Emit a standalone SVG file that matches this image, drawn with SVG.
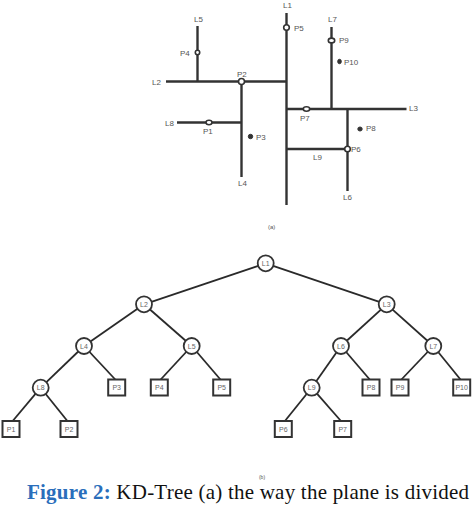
<svg xmlns="http://www.w3.org/2000/svg" width="474" height="505" viewBox="0 0 474 505">
<style>
.ln{stroke:#333;stroke-width:2.4;fill:none;stroke-linecap:butt}
.pt{fill:#fff;stroke:#333;stroke-width:1.6}
.dot{fill:#333;stroke:#333;stroke-width:1}
.lb{font-family:"Liberation Sans",Arial,sans-serif;font-size:8px;fill:#555}
.edge{stroke:#2a2a2a;stroke-width:1.8;fill:none}
.cn{fill:#fff;stroke:#333;stroke-width:1.8}
.bx{fill:#fff;stroke:#333;stroke-width:2}
.tl{font-family:"Liberation Sans",Arial,sans-serif;font-size:7px;fill:#666;text-anchor:middle;dominant-baseline:central}
.cap{font-family:"Liberation Serif","Times New Roman",serif;font-size:21px}
</style>
<rect width="474" height="505" fill="#fff"/>
<!-- Part (a) -->
<g id="plane">
<line class="ln" x1="286.5" y1="13" x2="286.5" y2="205"/>
<line class="ln" x1="166" y1="81.5" x2="286.5" y2="81.5"/>
<line class="ln" x1="197.5" y1="26" x2="197.5" y2="81.5"/>
<line class="ln" x1="241.5" y1="81.5" x2="241.5" y2="177"/>
<line class="ln" x1="177" y1="122.5" x2="241.5" y2="122.5"/>
<line class="ln" x1="286.5" y1="109" x2="406.5" y2="109"/>
<line class="ln" x1="331.5" y1="27" x2="331.5" y2="109"/>
<line class="ln" x1="347.5" y1="109" x2="347.5" y2="191"/>
<line class="ln" x1="286.5" y1="149" x2="347.5" y2="149"/>
<circle class="pt" cx="286.5" cy="27.5" r="2.8"/>
<circle class="pt" cx="197.5" cy="52.5" r="2.2"/>
<circle class="pt" cx="241.5" cy="81.5" r="3"/>
<ellipse class="pt" cx="331.5" cy="40.5" rx="3.2" ry="2.4"/>
<ellipse class="dot" cx="339.5" cy="61.5" rx="1.8" ry="2.2"/>
<ellipse class="pt" cx="306.5" cy="109" rx="3.2" ry="2.2"/>
<ellipse class="pt" cx="209" cy="122.5" rx="3" ry="2.2"/>
<circle class="dot" cx="250.5" cy="136.5" r="2.2"/>
<ellipse class="dot" cx="360" cy="129" rx="2.2" ry="2"/>
<circle class="pt" cx="347.5" cy="149" r="2.8"/>
<text class="lb" x="283" y="8">L1</text>
<text class="lb" x="294" y="31">P5</text>
<text class="lb" x="194" y="22">L5</text>
<text class="lb" x="180" y="56">P4</text>
<text class="lb" x="152" y="85">L2</text>
<text class="lb" x="237" y="77">P2</text>
<text class="lb" x="238" y="186">L4</text>
<text class="lb" x="165" y="126">L8</text>
<text class="lb" x="203" y="134">P1</text>
<text class="lb" x="256" y="140">P3</text>
<text class="lb" x="328" y="22">L7</text>
<text class="lb" x="339" y="43">P9</text>
<text class="lb" x="344" y="65">P10</text>
<text class="lb" x="409" y="111">L3</text>
<text class="lb" x="300" y="121">P7</text>
<text class="lb" x="366" y="131">P8</text>
<text class="lb" x="351" y="152">P6</text>
<text class="lb" x="313" y="160">L9</text>
<text class="lb" x="343" y="200">L6</text>
<text class="lb" x="268" y="229" style="font-size:6px">(a)</text>
</g>
<!-- Part (b) -->
<g id="connectors">
<line class="edge" x1="265.7" y1="263.3" x2="144" y2="304.3"/>
<line class="edge" x1="265.7" y1="263.3" x2="386.7" y2="304.3"/>
<line class="edge" x1="144" y1="304.3" x2="84" y2="346"/>
<line class="edge" x1="144" y1="304.3" x2="191.7" y2="346"/>
<line class="edge" x1="386.7" y1="304.3" x2="341" y2="346"/>
<line class="edge" x1="386.7" y1="304.3" x2="433.3" y2="346"/>
<line class="edge" x1="84" y1="346" x2="40.7" y2="387.7"/>
<line class="edge" x1="84" y1="346" x2="116.7" y2="381"/>
<line class="edge" x1="191.7" y1="346" x2="159.3" y2="381"/>
<line class="edge" x1="191.7" y1="346" x2="221.7" y2="381"/>
<line class="edge" x1="341" y1="346" x2="311.7" y2="387.7"/>
<line class="edge" x1="341" y1="346" x2="371" y2="381"/>
<line class="edge" x1="433.3" y1="346" x2="400" y2="381"/>
<line class="edge" x1="433.3" y1="346" x2="461.7" y2="381"/>
<line class="edge" x1="40.7" y1="387.7" x2="11" y2="423"/>
<line class="edge" x1="40.7" y1="387.7" x2="69" y2="423"/>
<line class="edge" x1="311.7" y1="387.7" x2="283.3" y2="423"/>
<line class="edge" x1="311.7" y1="387.7" x2="342.7" y2="423"/>
</g>
<g id="nL1"><circle class="cn" cx="265.7" cy="263.3" r="8"/><text class="tl" x="265.7" y="263.3">L1</text></g>
<g id="nL2"><circle class="cn" cx="144" cy="304.3" r="8"/><text class="tl" x="144" y="304.3">L2</text></g>
<g id="nL3"><circle class="cn" cx="386.7" cy="304.3" r="8"/><text class="tl" x="386.7" y="304.3">L3</text></g>
<g id="nL4"><circle class="cn" cx="84" cy="346" r="8"/><text class="tl" x="84" y="346">L4</text></g>
<g id="nL5"><circle class="cn" cx="191.7" cy="346" r="8"/><text class="tl" x="191.7" y="346">L5</text></g>
<g id="nL6"><circle class="cn" cx="341" cy="346" r="8"/><text class="tl" x="341" y="346">L6</text></g>
<g id="nL7"><circle class="cn" cx="433.3" cy="346" r="8"/><text class="tl" x="433.3" y="346">L7</text></g>
<g id="nL8"><circle class="cn" cx="40.7" cy="387.7" r="8"/><text class="tl" x="40.7" y="387.7">L8</text></g>
<g id="nL9"><circle class="cn" cx="311.7" cy="387.7" r="8"/><text class="tl" x="311.7" y="387.7">L9</text></g>
<g id="nP3"><rect class="bx" x="108.2" y="379.5" width="17" height="16"/><text class="tl" x="116.7" y="387.5">P3</text></g>
<g id="nP4"><rect class="bx" x="150.8" y="379.5" width="17" height="16"/><text class="tl" x="159.3" y="387.5">P4</text></g>
<g id="nP5"><rect class="bx" x="213.2" y="379.5" width="17" height="16"/><text class="tl" x="221.7" y="387.5">P5</text></g>
<g id="nP8"><rect class="bx" x="362.5" y="379.5" width="17" height="16"/><text class="tl" x="371" y="387.5">P8</text></g>
<g id="nP9"><rect class="bx" x="391.5" y="379.5" width="17" height="16"/><text class="tl" x="400" y="387.5">P9</text></g>
<g id="nP10"><rect class="bx" x="453.2" y="379.5" width="17" height="16"/><text class="tl" x="461.7" y="387.5">P10</text></g>
<g id="nP1"><rect class="bx" x="2.5" y="421" width="17" height="16"/><text class="tl" x="11" y="429">P1</text></g>
<g id="nP2"><rect class="bx" x="60.5" y="421" width="17" height="16"/><text class="tl" x="69" y="429">P2</text></g>
<g id="nP6"><rect class="bx" x="274.8" y="421" width="17" height="16"/><text class="tl" x="283.3" y="429">P6</text></g>
<g id="nP7"><rect class="bx" x="334.2" y="421" width="17" height="16"/><text class="tl" x="342.7" y="429">P7</text></g>
<text class="lb" x="262" y="479" style="font-size:5px;text-anchor:middle">(b)</text>
<text class="cap" x="27" y="499" textLength="442" lengthAdjust="spacing"><tspan fill="#2a6ebb" font-weight="bold">Figure 2:</tspan><tspan fill="#111"> KD-Tree (a) the way the plane is divided</tspan></text>
</svg>
